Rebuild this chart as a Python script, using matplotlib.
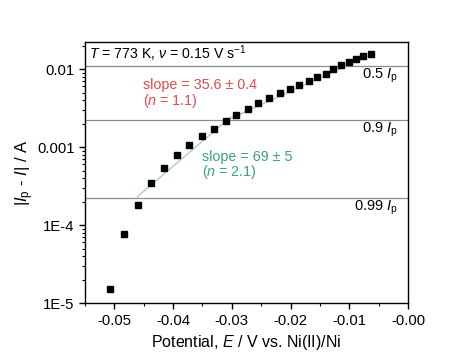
import matplotlib
matplotlib.use('Agg')
import matplotlib.pyplot as plt
import matplotlib.ticker as mticker

plt.rcParams['font.family'] = ['Liberation Sans', 'DejaVu Sans']
plt.rcParams['mathtext.fontset'] = 'custom'
plt.rcParams['mathtext.rm'] = 'Liberation Sans'
plt.rcParams['mathtext.it'] = 'Liberation Sans:italic'
plt.rcParams['mathtext.bf'] = 'Liberation Sans:bold'

# measured points: potential (V) and Ip - I (A)
potential = [-0.0507, -0.0483, -0.0460, -0.0437, -0.0415, -0.0394, -0.0372,
             -0.0351, -0.0330, -0.0310, -0.0293, -0.0273, -0.0255, -0.0237,
             -0.0218, -0.0201, -0.0185, -0.0169, -0.0155, -0.0140, -0.0127,
             -0.0114, -0.0101, -0.0089, -0.0076, -0.0063]
current = [1.53e-5, 7.6e-5, 1.80e-4, 3.47e-4, 5.47e-4, 7.94e-4, 1.07e-3,
           1.39e-3, 1.72e-3, 2.15e-3, 2.59e-3, 3.07e-3, 3.63e-3, 4.21e-3,
           4.88e-3, 5.54e-3, 6.29e-3, 7.08e-3, 7.85e-3, 8.71e-3, 9.94e-3,
           1.119e-2, 1.23e-2, 1.343e-2, 1.455e-2, 1.544e-2]

ip = 0.0222
levels = [0.5, 0.9, 0.99]
level_labels = [r'0.5 $\mathit{I}_\mathrm{p}$', r'0.9 $\mathit{I}_\mathrm{p}$',
                r'0.99 $\mathit{I}_\mathrm{p}$']

# fit lines (end points)
fit1_E = [-0.0461, -0.0302]
fit1_I = [2.30e-4, 2.42e-3]
fit2_E = [-0.0312, -0.0061]
fit2_I = [2.15e-3, 1.56e-2]

red = '#e5474f'
green = '#3aa66e'

fig = plt.figure(figsize=(4.74, 3.63), dpi=100)
ax = fig.add_axes([0.179, 0.165, 0.682, 0.719])

for lv in levels:
    ax.axhline(ip * (1 - lv), color='#8c8c8c', lw=0.9, zorder=1)

ax.plot(fit1_E, fit1_I, color='#9fd0b8', lw=0.9, zorder=2)
ax.plot(fit2_E, fit2_I, color='#eda0a4', lw=0.9, zorder=2)
ax.plot(potential, current, 's', color='black', ms=4.3, zorder=3)

ax.set_yscale('log')
ax.set_xlim(-0.055, 0.0)
ax.set_ylim(1e-5, ip)

ax.xaxis.set_major_locator(mticker.MultipleLocator(0.01))
ax.xaxis.set_minor_locator(mticker.MultipleLocator(0.005))
ax.xaxis.set_major_formatter(mticker.FuncFormatter(lambda v, p: '%.2f' % v))
ax.yaxis.set_major_locator(mticker.LogLocator(base=10, numticks=10))
ax.yaxis.set_minor_locator(mticker.LogLocator(base=10, subs=range(2, 10), numticks=20))
ylabs = {1e-5: '1E-5', 1e-4: '1E-4', 1e-3: '0.001', 1e-2: '0.01'}
ax.yaxis.set_major_formatter(mticker.FuncFormatter(
    lambda v, p: ylabs.get(float('%.0e' % v), '')))
ax.yaxis.set_minor_formatter(mticker.NullFormatter())

ax.tick_params(which='major', direction='out', length=4.5, width=1,
               labelsize=10.7, pad=3, top=False, right=False)
ax.tick_params(which='minor', direction='out', length=2.5, width=0.8,
               top=False, right=False)
for s in ax.spines.values():
    s.set_linewidth(1.0)

ax.set_xlabel(r'Potential, $\mathit{E}$ / V vs. Ni(II)/Ni', fontsize=11.5, labelpad=4)
ax.set_ylabel(r'|$\mathit{I}_\mathrm{p}$ - $\mathit{I}$| / A', fontsize=12, labelpad=1)

ax.text(0.012, 0.955, r'$\mathit{T}$ = 773 K, $\nu$ = 0.15 V s$^{-1}$',
        transform=ax.transAxes, fontsize=10.2, va='center', ha='left')

ax.text(0.18, 0.835, 'slope = 35.6 \u00b1 0.4', transform=ax.transAxes,
        color=red, fontsize=10.3, va='center')
ax.text(0.18, 0.775, r'($\mathit{n}$ = 1.1)', transform=ax.transAxes,
        color=red, fontsize=10.3, va='center')
ax.text(0.362, 0.56, 'slope = 69 \u00b1 5', transform=ax.transAxes,
        color=green, fontsize=10.3, va='center')
ax.text(0.362, 0.503, r'($\mathit{n}$ = 2.1)', transform=ax.transAxes,
        color=green, fontsize=10.3, va='center')

for lv, lab in zip(levels, level_labels):
    ax.text(-0.0017, ip * (1 - lv) * 0.74, lab, fontsize=10.5, ha='right', va='center')

fig.savefig('out.png', dpi=100)
